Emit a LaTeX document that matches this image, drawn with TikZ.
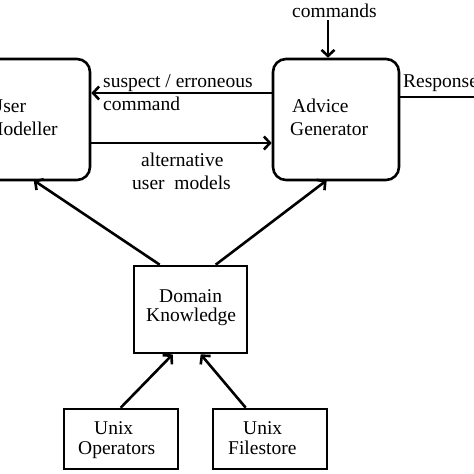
\documentclass[tikz,border=0pt]{standalone}
\usepackage{fontspec}
\setmainfont{Liberation Serif}
\usetikzlibrary{arrows.meta,calc}
\begin{document}
\begin{tikzpicture}[x=1pt,y=-1pt,
  every node/.style={font=\fontsize{19.5}{23}\selectfont},
  box/.style={draw,line width=2.6pt,inner sep=0pt},
  rbox/.style={box,rounded corners=13pt},
  lbl/.style={anchor=base west,inner sep=0pt},
  conn/.style={line width=2.6pt,-{Straight Barb[length=6pt,width=13pt,line width=2.6pt]}}]
\useasboundingbox (0,0) rectangle (474,474);
\clip (0,0) rectangle (474,474);
% boxes
\node[rbox,minimum width=120pt,minimum height=121pt] (um) at (30,119.5) {};
\node[rbox,minimum width=126pt,minimum height=121pt] (ag) at (336,119.5) {};
\node[box,minimum width=113pt,minimum height=87pt] (dk) at (190.5,309.5) {};
\node[box,minimum width=114pt,minimum height=60pt] (uo) at (121,439) {};
\node[box,minimum width=114pt,minimum height=60pt] (uf) at (270,439) {};
% box texts
\node[lbl] (umt1) at (-11,112) {User};
\node[lbl] (umt2) at (-14,135) {Modeller};
\node[lbl] (agt1) at (292,112) {Advice};
\node[lbl] (agt2) at (290,135) {Generator};
\node[lbl] (dkt1) at (159,302) {Domain};
\node[lbl] (dkt2) at (146,321) {Knowledge};
\node[lbl] (uot1) at (94,434) {Unix};
\node[lbl] (uot2) at (78,454) {Operators};
\node[lbl] (uft1) at (243,434) {Unix};
\node[lbl] (uft2) at (228,454) {Filestore};
% connector labels
\node[lbl] (cmd) at (292,17) {commands};
\node[lbl] (resp) at (403,87) {Response};
\node[lbl] (sus1) at (103,87) {suspect / erroneous};
\node[lbl] (sus2) at (103,110) {command};
\node[lbl] (alt1) at (141,166) {alternative};
\node[lbl] (alt2) at (132,189) {user\ \ models};
% free ends
\coordinate (cmdstart) at (328,20);
\coordinate (respend) at (480,97);
% connectors
\draw[conn] (cmdstart) -- (cmdstart |- ag.north);
\draw[line width=2.6pt] (ag.east |- respend) -- (respend);
\draw[conn] (ag.west |- 0,93) -- (um.east |- 0,93);
\draw[conn] (um.east |- 0,143) -- (ag.west |- 0,143);
\draw[conn] ($(dk.north west)+(27,0)$) -- ($(um.south west)+(65,-1)$);
\draw[conn] ($(dk.north west)+(83,0)$) -- ($(ag.south west)+(55,-1)$);
\draw[conn] ($(uo.north west)+(58,0)$) -- ($(dk.south west)+(40,0)$);
\draw[conn] ($(uf.north west)+(34,0)$) -- ($(dk.south west)+(68,0)$);
\end{tikzpicture}
\end{document}
